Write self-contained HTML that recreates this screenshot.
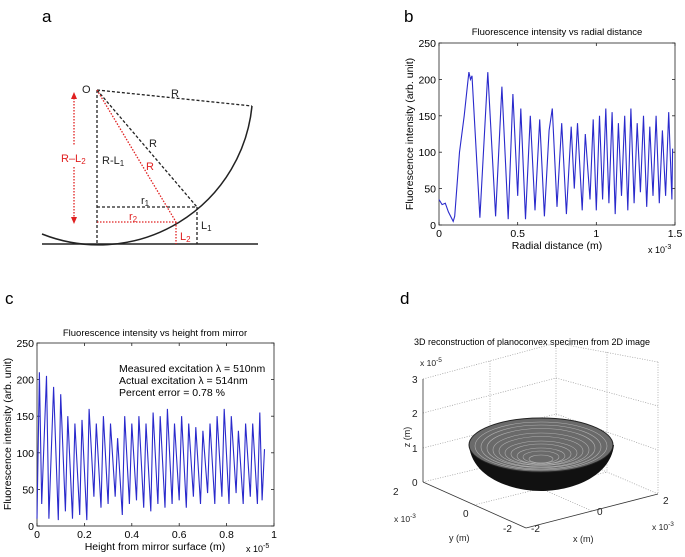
<!DOCTYPE html>
<html><head><meta charset="utf-8"><style>
html,body{margin:0;padding:0;background:#fff}
svg{display:block;font-family:"Liberation Sans",Arial,sans-serif}
</style></head><body>
<svg id="fig" width="685" height="557" viewBox="0 0 685 557">
<!-- Panel a -->
<g>
<text x="42" y="22" font-size="17">a</text>
<line x1="42" y1="244" x2="258" y2="244" stroke="#222" stroke-width="1.5"/>
<path d="M42,234 A154,154 0 0 0 252,106" fill="none" stroke="#222" stroke-width="1.5"/>
<g stroke="#222" stroke-width="1.3" stroke-dasharray="3,2" fill="none">
<line x1="97" y1="90" x2="252" y2="106"/>
<line x1="97" y1="90" x2="197" y2="207"/>
<line x1="97" y1="90" x2="97" y2="244"/>
<line x1="97" y1="207" x2="197" y2="207"/>
<line x1="197" y1="207" x2="197" y2="244"/>
</g>
<g stroke="#e02020" stroke-width="1.3" stroke-dasharray="1.5,1.5" fill="none">
<line x1="97" y1="90" x2="176" y2="222"/>
<line x1="97" y1="222" x2="176" y2="222"/>
<line x1="176" y1="222" x2="176" y2="244"/>
<line x1="74" y1="98" x2="74" y2="145"/>
<line x1="74" y1="167" x2="74" y2="218"/>
</g>
<polygon points="74,92 71,99 77,99" fill="#e02020"/>
<polygon points="74,224 71,217 77,217" fill="#e02020"/>
<g font-size="11" fill="#222">
<text x="82" y="93">O</text>
<text x="171" y="97">R</text>
<text x="149" y="147">R</text>
<text x="102" y="164">R-L<tspan font-size="8" dy="2">1</tspan></text>
<text x="141" y="204">r<tspan font-size="8" dy="2">1</tspan></text>
<text x="201" y="229">L<tspan font-size="8" dy="2">1</tspan></text>
</g>
<g font-size="11" fill="#e02020">
<text x="146" y="170">R</text>
<text x="61" y="162">R–L<tspan font-size="8" dy="2">2</tspan></text>
<text x="129" y="220">r<tspan font-size="8" dy="2">2</tspan></text>
<text x="180" y="240">L<tspan font-size="8" dy="2">2</tspan></text>
</g>
</g>

<!-- Panel b -->
<g id="pb">
<text x="404" y="22" font-size="17">b</text>
<text x="557" y="35" font-size="9.5" text-anchor="middle">Fluorescence intensity vs radial distance</text>
<text transform="translate(413,134) rotate(-90)" font-size="10.5" text-anchor="middle">Fluorescence intensity (arb. unit)</text>
<text x="557" y="249" font-size="10.5" text-anchor="middle">Radial distance (m)</text>
<text x="648" y="253" font-size="9">x 10<tspan font-size="7" dy="-4">-3</tspan></text>
</g>

<!-- Panel c -->
<g id="pc">
<text x="5" y="304" font-size="17">c</text>
<text x="155" y="336" font-size="9.5" text-anchor="middle">Fluorescence intensity vs height from mirror</text>
<text transform="translate(11,434) rotate(-90)" font-size="10.5" text-anchor="middle">Fluorescence intensity (arb. unit)</text>
<text x="155" y="550" font-size="10.5" text-anchor="middle">Height from mirror surface (m)</text>
<text x="246" y="552" font-size="9">x 10<tspan font-size="7" dy="-4">-5</tspan></text>
<g font-size="10.5">
<text x="119" y="372">Measured excitation λ = 510nm</text>
<text x="119" y="384">Actual excitation λ = 514nm</text>
<text x="119" y="396">Percent error = 0.78 %</text>
</g>
</g>

<!-- Panel d -->
<g>
<text x="400" y="304" font-size="17">d</text>
<text x="532" y="345" font-size="9" text-anchor="middle">3D reconstruction of planoconvex specimen from 2D image</text>
<g stroke="#999" stroke-width="0.7" stroke-dasharray="1,1.5" fill="none">
<line x1="423" y1="379" x2="556" y2="343"/><line x1="556" y1="343" x2="658" y2="362"/>
<line x1="423" y1="413" x2="556" y2="378"/><line x1="556" y1="378" x2="658" y2="406"/>
<line x1="423" y1="448" x2="556" y2="414"/><line x1="556" y1="414" x2="658" y2="450"/>
<line x1="423" y1="482" x2="556" y2="450"/><line x1="556" y1="450" x2="658" y2="494"/>
<line x1="556" y1="343" x2="556" y2="450"/><line x1="658" y1="362" x2="658" y2="494"/>
<line x1="490" y1="361" x2="490" y2="466"/><line x1="607" y1="352" x2="607" y2="472"/>
<line x1="474" y1="505" x2="607" y2="472"/><line x1="490" y1="466" x2="592" y2="511"/>
</g>
<g stroke="#333" stroke-width="0.8" fill="none">
<line x1="423" y1="379" x2="423" y2="482"/>
<line x1="423" y1="482" x2="526" y2="528"/>
<line x1="526" y1="528" x2="658" y2="494"/>
</g>
<path d="M469,445 C472,478 512,491 541,491 C570,491 610,478 614,445 Z" fill="#111"/>
<ellipse cx="541" cy="445" rx="72" ry="27" fill="#6a6a6a" stroke="#222"/>
<g fill="none" stroke="#b0b0b0" stroke-width="0.6">
<ellipse cx="541" cy="446" rx="66" ry="24"/><ellipse cx="541" cy="447" rx="60" ry="22"/><ellipse cx="541" cy="448" rx="54" ry="19.5"/><ellipse cx="541" cy="450" rx="48" ry="17"/><ellipse cx="541" cy="451" rx="42" ry="14.5"/>
<ellipse cx="541" cy="453" rx="36" ry="12"/><ellipse cx="541" cy="454" rx="30" ry="10"/><ellipse cx="541" cy="456" rx="24" ry="8"/><ellipse cx="541" cy="457" rx="18" ry="6"/>
<ellipse cx="541" cy="459" rx="12" ry="4"/>
</g>
<g font-size="10" fill="#222">
<text x="412" y="383">3</text><text x="412" y="417">2</text><text x="412" y="452">1</text><text x="412" y="486">0</text>
<text x="420" y="366" font-size="8.5">x 10<tspan font-size="6.5" dy="-4">-5</tspan></text>
<text x="393" y="495">2</text><text x="463" y="517">0</text><text x="503" y="532">-2</text>
<text x="531" y="532">-2</text><text x="597" y="515">0</text><text x="663" y="504">2</text>
<text x="394" y="522" font-size="8.5">x 10<tspan font-size="6.5" dy="-4">-3</tspan></text>
<text x="652" y="530" font-size="8.5">x 10<tspan font-size="6.5" dy="-4">-3</tspan></text>
<text x="449" y="541" font-size="9">y (m)</text><text x="573" y="542" font-size="9">x (m)</text>
<text transform="translate(410,437) rotate(-90)" font-size="9" text-anchor="middle">z (m)</text>
</g>
</g>
</svg>
<script>
const bX = [0,0.02,0.04,0.06,0.09,0.10,0.13,0.16,0.18,0.19,0.20,0.21,0.26,0.31,0.36,0.40,0.44,0.47,0.50,0.52,0.55,0.58,0.61,0.64,0.67,0.70,0.72,0.75,0.78,0.81,0.84,0.86,0.88,0.91,0.93,0.96,0.98,1.00,1.02,1.04,1.06,1.08,1.10,1.12,1.14,1.16,1.18,1.20,1.22,1.24,1.26,1.28,1.30,1.32,1.34,1.36,1.38,1.40,1.42,1.44,1.46,1.48,1.485];
const bY = [35,28,30,18,5,12,100,150,190,210,200,205,10,210,12,190,8,180,40,160,8,150,20,145,12,130,160,25,140,15,135,50,140,20,125,35,145,20,150,35,160,30,155,15,140,40,150,20,160,30,140,45,150,25,135,40,150,30,130,40,155,35,105];
const cX = [0,0.01,0.02,0.04,0.05,0.07,0.09,0.10,0.12,0.13,0.15,0.16,0.18,0.19,0.21,0.22,0.24,0.25,0.27,0.28,0.30,0.31,0.33,0.34,0.36,0.37,0.39,0.40,0.42,0.43,0.45,0.46,0.48,0.49,0.51,0.52,0.54,0.55,0.57,0.58,0.60,0.61,0.63,0.64,0.66,0.67,0.69,0.70,0.72,0.73,0.75,0.76,0.78,0.79,0.81,0.82,0.84,0.85,0.87,0.88,0.90,0.91,0.93,0.94,0.95,0.96];
const cY = [10,210,30,205,10,190,8,180,20,150,10,140,15,145,8,160,40,140,25,150,30,140,40,120,15,150,30,140,35,150,25,140,20,155,30,150,25,160,30,140,35,150,25,140,40,135,30,130,45,140,30,150,40,160,30,150,45,130,30,140,40,140,30,155,35,105];
const yTicks = [0,50,100,150,200,250];
const bXTicks = [0,0.5,1,1.5];
const bXTickLabels = ["0","0.5","1","1.5"];
const cXTicks = [0,0.2,0.4,0.6,0.8,1];
const cXTickLabels = ["0","0.2","0.4","0.6","0.8","1"];
const NS='http://www.w3.org/2000/svg';
function mk(t,a,p){const e=document.createElementNS(NS,t);for(const k in a)e.setAttribute(k,a[k]);p.appendChild(e);return e;}
function chart(g,box,xMax,xs,ys,xt,xtl,prefix){
  const sx=v=>box.l+(v/xMax)*(box.r-box.l), sy=v=>box.b-(v/250)*(box.b-box.t);
  const frame=mk('rect',{x:box.l,y:box.t,width:box.r-box.l,height:box.b-box.t,fill:'none',stroke:'#222','stroke-width':0.8},g);
  
  
  yTicks.forEach(v=>{
    mk('line',{x1:box.l,x2:box.l+3,y1:sy(v),y2:sy(v),stroke:'#222','stroke-width':0.8},g);
    mk('line',{x1:box.r,x2:box.r-3,y1:sy(v),y2:sy(v),stroke:'#222','stroke-width':0.8},g);
    const t=mk('text',{x:box.l-3,y:sy(v)+4,'font-size':10.5,'text-anchor':'end'},g);t.textContent=v;
    
    
  });
  xt.forEach((v,i)=>{
    mk('line',{x1:sx(v),x2:sx(v),y1:box.b,y2:box.b-3,stroke:'#222','stroke-width':0.8},g);
    mk('line',{x1:sx(v),x2:sx(v),y1:box.t,y2:box.t+3,stroke:'#222','stroke-width':0.8},g);
    const t=mk('text',{x:sx(v),y:box.b+12,'font-size':10.5,'text-anchor':'middle'},g);t.textContent=xtl[i];
    
    
  });
  let d='';xs.forEach((v,i)=>{d+=(i?'L':'M')+sx(v).toFixed(1)+','+sy(ys[i]).toFixed(1);});
  const p=mk('path',{d:d,fill:'none',stroke:'#2a2acc','stroke-width':1.1},g);
  
  
}
chart(document.getElementById('pb'),{l:439,r:675,t:43,b:225},1.5,bX,bY,bXTicks,bXTickLabels,'chart-b');
chart(document.getElementById('pc'),{l:37,r:274,t:343,b:526},1,cX,cY,cXTicks,cXTickLabels,'chart-c');
</script>
</body></html>
